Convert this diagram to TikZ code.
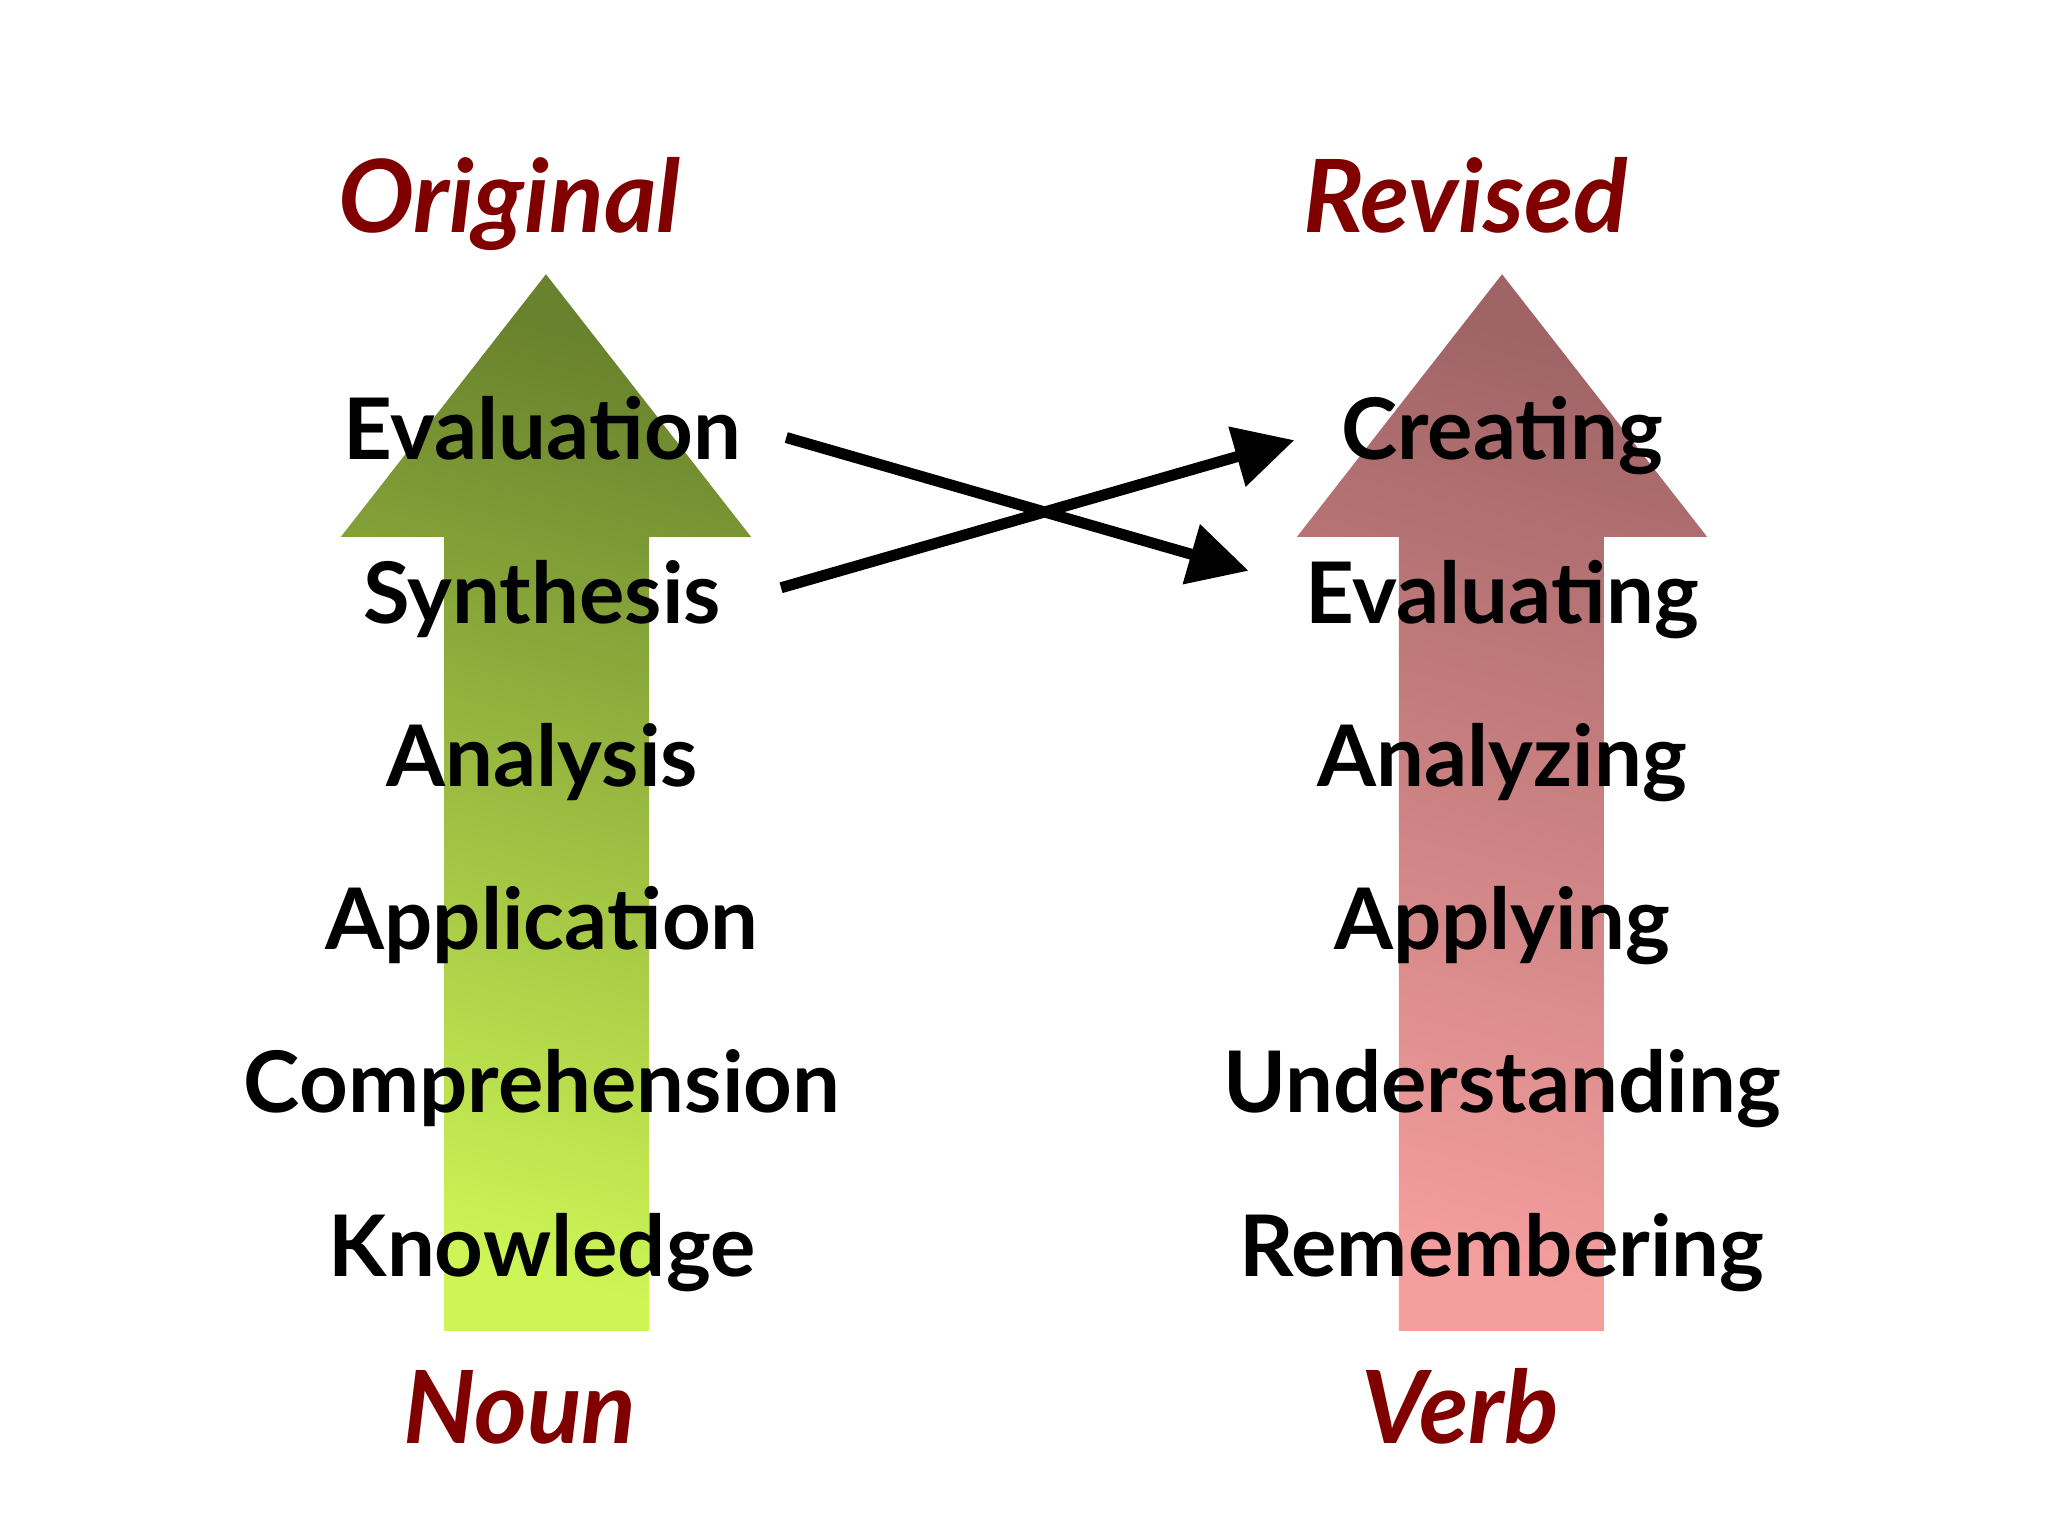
\documentclass[tikz,border=0pt]{standalone}
\usepackage{fontspec}
\setmainfont{Lato}
\usetikzlibrary{arrows.meta}
\definecolor{hdr}{RGB}{128,0,0}
\definecolor{gtop}{RGB}{105,130,45}
\definecolor{gbot}{RGB}{205,245,85}
\definecolor{rtop}{RGB}{160,100,102}
\definecolor{rbot}{RGB}{245,158,158}
\tikzset{
 word/.style={font=\fontsize{18.5}{22}\selectfont\bfseries, text=black, inner sep=0pt, anchor=base},
 hdrtxt/.style={font=\fontsize{22}{26}\selectfont\bfseries\itshape, text=hdr, inner sep=0pt, anchor=base},
 conn/.style={line width=2.4pt, -{Triangle[length=13pt,width=13pt]}}
}
\begin{document}
\begin{tikzpicture}[x=0.01cm,y=-0.01cm]
\useasboundingbox (0,0) rectangle (1568,1176);
\shade[top color=gtop, bottom color=gbot, shading angle=-15]
 (418,210) -- (575,411) -- (497,411) -- (497,1019) -- (340,1019) -- (340,411) -- (261,411) -- cycle;
\shade[top color=rtop, bottom color=rbot, shading angle=-15]
 (1150,210) -- (1307,411) -- (1228,411) -- (1228,1019) -- (1071,1019) -- (1071,411) -- (993,411) -- cycle;
\node[hdrtxt] (orig) at (390,178) {Original};
\node[hdrtxt] (rev) at (1122,178) {Revised};
\node[hdrtxt] (noun) at (398,1105) {Noun};
\node[hdrtxt] (verb) at (1118,1105) {Verb};
\node[word] (l1) at (415,352) {Evaluation};
\node[word] (l2) at (415,477) {Synthesis};
\node[word] (l3) at (415,602) {Analysis};
\node[word] (l4) at (415,727) {Application};
\node[word] (l5) at (415,852) {Comprehension};
\node[word] (l6) at (415,977) {Knowledge};
\node[word] (r1) at (1150,352) {Creating};
\node[word] (r2) at (1150,477) {Evaluating};
\node[word] (r3) at (1150,602) {Analyzing};
\node[word] (r4) at (1150,727) {Applying};
\node[word] (r5) at (1150,852) {Understanding};
\node[word] (r6) at (1150,977) {Remembering};
\coordinate (a1) at (602,335);
\coordinate (a2) at (956,437);
\coordinate (b1) at (598,450);
\coordinate (b2) at (991,337);
\draw[conn] (a1) -- (a2);
\draw[conn] (b1) -- (b2);
\end{tikzpicture}
\end{document}
